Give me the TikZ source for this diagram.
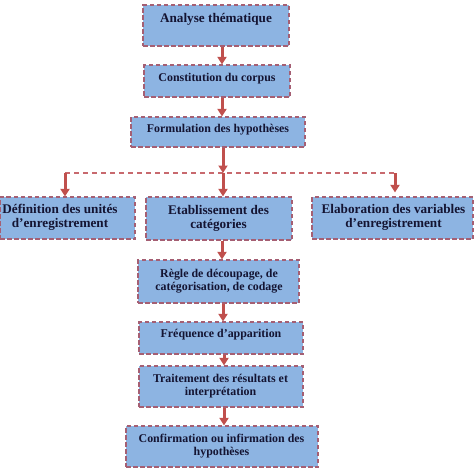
\documentclass[tikz,border=0pt]{standalone}
\usepackage{fontspec}
\setmainfont{Liberation Serif}
\usetikzlibrary{arrows.meta}
\definecolor{boxfill}{RGB}{141,180,226}
\definecolor{boxline}{RGB}{165,95,115}
\definecolor{arrowred}{RGB}{192,80,77}
\definecolor{dashred}{RGB}{200,105,110}
\definecolor{txtcol}{RGB}{20,20,50}
\begin{document}
\begin{tikzpicture}[x=1pt,y=-1pt,
  box/.style={draw=boxline, fill=boxfill, line width=1.2pt, dash pattern=on 4.5pt off 2.5pt, inner sep=0pt},
  txt/.style={text=txtcol, font=\bfseries\fontsize{11.9}{13.4}\selectfont, align=center, inner sep=0pt},
  big/.style={font=\bfseries\fontsize{13.2}{14}\selectfont},
  arr/.style={draw=arrowred, line width=3pt, -{Triangle[length=7.5pt,width=9pt]}},
  link/.style={draw=dashred, line width=1.2pt, dash pattern=on 5pt off 4pt}]
\useasboundingbox (0,0) rectangle (474,474);

% boxes
\node[box, minimum width=146pt, minimum height=41pt] (b1) at (216,25.5) {};
\node[box, minimum width=146pt, minimum height=32pt] (b2) at (217,81) {};
\node[box, minimum width=174pt, minimum height=30pt] (b3) at (218,132) {};
\node[box, minimum width=135pt, minimum height=42pt] (bl) at (67.5,218) {};
\node[box, minimum width=146pt, minimum height=43pt] (bm) at (219,218.5) {};
\node[box, minimum width=161pt, minimum height=42pt] (br) at (392.5,218) {};
\node[box, minimum width=161pt, minimum height=43pt] (b4) at (218.5,281.5) {};
\node[box, minimum width=164pt, minimum height=32pt] (b5) at (221,338) {};
\node[box, minimum width=164pt, minimum height=41pt] (b6) at (221,386.5) {};
\node[box, minimum width=192pt, minimum height=41pt] (b7) at (222,446.5) {};

% texts
\node[txt, big, anchor=base] (t1) at (216,22) {Analyse thématique};
\node[txt, anchor=base] (t2) at (217,81) {Constitution du corpus};
\node[txt, anchor=base] (t3) at (218,132.3) {Formulation des hypothèses};
\node[txt, big] (tl) at (60,217.6) {Définition des unités\\d’enregistrement};
\node[txt, big] (tm) at (218.5,218.2) {Etablissement des\\catégories};
\node[txt, big] (tr) at (393.5,217.6) {Elaboration des variables\\d’enregistrement};
\node[txt] (t4) at (219,281.3) {Règle de découpage, de\\catégorisation, de codage};
\node[txt, anchor=base] (t5) at (221,337.7) {Fréquence d’apparition};
\node[txt] (t6) at (220.5,385.9) {Traitement des résultats et\\interprétation};
\node[txt] (t7) at (221.5,446) {Confirmation ou infirmation des\\hypothèses};

% junctions
\coordinate (j) at (223,173);
\coordinate (jl) at (65,173);
\coordinate (jr) at (395,173);

\draw[link] (jl) -- (jr);

% arrows
\draw[arr] ([xshift=6pt]b1.south) -- ([xshift=5pt]b2.north);
\draw[arr] ([xshift=5pt]b2.south) -- ([xshift=4pt]b3.north);
\draw[arr] ([xshift=5pt]b3.south) -- (j);
\draw[arr] (j) -- ([xshift=4pt]bm.north);
\draw[arr] (jl) -- ([xshift=-2.5pt]bl.north);
\draw[arr] (jr) -- ([xshift=2.5pt,yshift=4pt]br.north);
\draw[arr] ([xshift=3pt]bm.south) -- ([xshift=3.5pt]b4.north);
\draw[arr] ([xshift=4.5pt]b4.south) -- ([xshift=2pt]b5.north);
\draw[arr] ([xshift=3pt]b5.south) -- ([xshift=3pt]b6.north);
\draw[arr] ([xshift=3pt]b6.south) -- ([xshift=2pt]b7.north);
\end{tikzpicture}
\end{document}
